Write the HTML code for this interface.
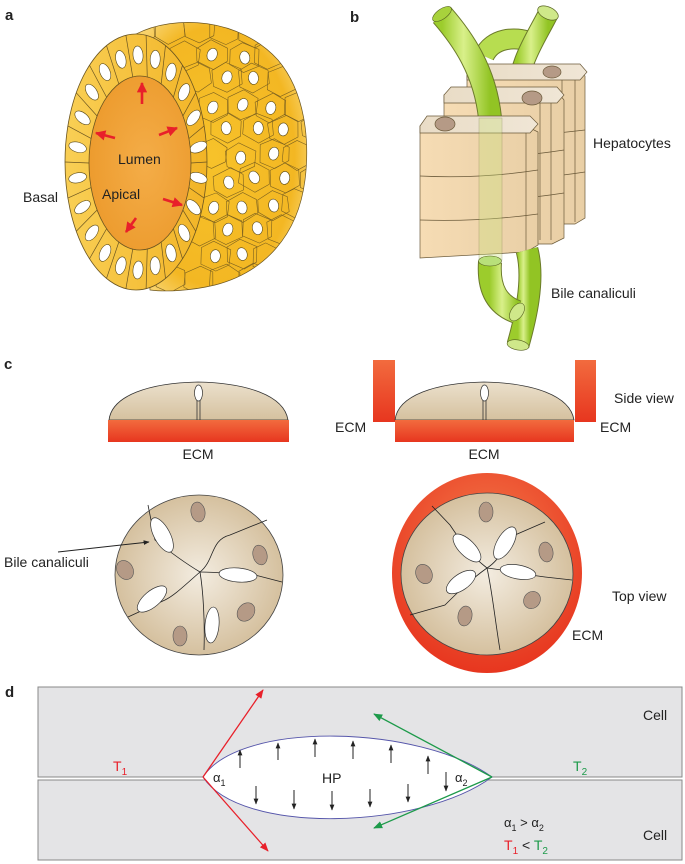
<!DOCTYPE html>
<html><head><meta charset="utf-8"><style>
html,body{margin:0;padding:0;background:#fff;}
svg{display:block;font-family:"Liberation Sans",Arial,sans-serif;}
</style></head><body>
<svg id="s" width="685" height="864" viewBox="0 0 685 864" xmlns="http://www.w3.org/2000/svg">
<defs>
<radialGradient id="dome" cx="0.45" cy="0.5" r="0.6"><stop offset="0" stop-color="#f7c22a"/><stop offset="0.8" stop-color="#f3b723"/><stop offset="1" stop-color="#f8d26a"/></radialGradient>
<linearGradient id="ring" x1="0" y1="0" x2="1" y2="0"><stop offset="0" stop-color="#f9cf55"/><stop offset="1" stop-color="#f2b426"/></linearGradient>
<radialGradient id="lumen" cx="0.55" cy="0.5" r="0.6"><stop offset="0" stop-color="#f4ad48"/><stop offset="1" stop-color="#ec9a2c"/></radialGradient>
<linearGradient id="ecm" x1="0" y1="0" x2="0" y2="1"><stop offset="0" stop-color="#f26b3e"/><stop offset="1" stop-color="#e7361f"/></linearGradient>
<radialGradient id="cell" cx="0.5" cy="0.5" r="0.55"><stop offset="0" stop-color="#f3ece0"/><stop offset="1" stop-color="#d2bc98"/></radialGradient>
<linearGradient id="celld" x1="0" y1="0" x2="0" y2="1"><stop offset="0" stop-color="#ebe0cc"/><stop offset="1" stop-color="#d5c19f"/></linearGradient>
<radialGradient id="ringc" cx="0.5" cy="0.35" r="0.65"><stop offset="0" stop-color="#f47a4a"/><stop offset="1" stop-color="#e7361f"/></radialGradient>
<linearGradient id="hep" x1="0" y1="0" x2="1" y2="0"><stop offset="0" stop-color="#f6dcb4"/><stop offset="1" stop-color="#e9cfa6"/></linearGradient>
<linearGradient id="hepTop" x1="0" y1="0" x2="1" y2="0"><stop offset="0" stop-color="#e9dcc6"/><stop offset="1" stop-color="#f0e6d6"/></linearGradient>
<linearGradient id="tube" x1="0" y1="0" x2="1" y2="0"><stop offset="0" stop-color="#9ccc2c"/><stop offset="0.45" stop-color="#d9f08a"/><stop offset="1" stop-color="#92c424"/></linearGradient>
<marker id="ar" viewBox="0 0 10 10" refX="9" refY="5" markerWidth="4" markerHeight="4" orient="auto"><path d="M0,0L10,5L0,10z" fill="#e8202a"/></marker>
<marker id="mr" viewBox="0 0 10 10" refX="9" refY="5" markerWidth="7" markerHeight="7" orient="auto"><path d="M0,1L10,5L0,9z" fill="#e8202a"/></marker>
<marker id="mg" viewBox="0 0 10 10" refX="9" refY="5" markerWidth="7" markerHeight="7" orient="auto"><path d="M0,1L10,5L0,9z" fill="#1d9a4a"/></marker>
<marker id="mk" viewBox="0 0 10 10" refX="9" refY="5" markerWidth="6" markerHeight="6" orient="auto"><path d="M0,1L10,5L0,9z" fill="#222"/></marker>
</defs>

<!-- Panel a -->
<text x="5" y="20" font-size="15" font-weight="bold" fill="#222">a</text>
<path id="domep" d="M136,34 C175,14 240,18 278,60 C305,92 310,140 305,180 C298,235 265,272 215,285 C190,291 165,292 150,290 Z" fill="url(#dome)" stroke="#6b5520" stroke-width="0.7"/>
<clipPath id="dclip"><path d="M136,34 C175,14 240,18 278,60 C305,92 310,140 305,180 C298,235 265,272 215,285 C190,291 165,292 150,290 Z"/></clipPath>
<g id="domeg" clip-path="url(#dclip)"></g>
<ellipse cx="136" cy="162" rx="71" ry="128" fill="url(#ring)" stroke="#6b5520" stroke-width="0.8"/>
<g id="ringg"></g>
<ellipse cx="140" cy="163" rx="51" ry="87" fill="url(#lumen)" stroke="#6b5520" stroke-width="0.8"/>
<g stroke="#e8202a" stroke-width="2.6" marker-end="url(#ar)">
<line x1="142" y1="104" x2="142" y2="83"/>
<line x1="115" y1="138" x2="96" y2="133"/>
<line x1="159" y1="135" x2="177" y2="128"/>
<line x1="163" y1="199" x2="182" y2="205"/>
<line x1="136" y1="218" x2="126" y2="232"/>
</g>
<text x="118" y="164" font-size="14" fill="#222">Lumen</text>
<text x="102" y="199" font-size="14" fill="#222">Apical</text>
<text x="23" y="202" font-size="14" fill="#222">Basal</text>

<!-- Panel b -->
<text x="350" y="22" font-size="15" font-weight="bold" fill="#222">b</text>
<path d="M530,42 C515,36 492,38 484,56" fill="none" stroke="#6b7a2a" stroke-width="21" stroke-linecap="butt"/>
<path d="M530,42 C515,36 492,38 484,56" fill="none" stroke="#b7dd50" stroke-width="19"/>
<path d="M548,14 C535,40 518,62 517,100" fill="none" stroke="#6b7a2a" stroke-width="21"/>
<path d="M548,14 C535,40 518,62 517,100" fill="none" stroke="url(#tube)" stroke-width="19"/>
<ellipse cx="548" cy="13" rx="11" ry="6" transform="rotate(25 548 13)" fill="#cfe88a" stroke="#556020" stroke-width="0.7"/>
<g stroke="#6b5a3a" stroke-width="0.7">
<path d="M467,72 L580,72 L585,76 L585,218 L575,224 L467,224 Z" fill="url(#hep)"/>
<path d="M467,72 L474,64 L580,64 L587,72 L580,80 L467,80 Z" fill="url(#hepTop)"/>
<ellipse cx="552" cy="72" rx="9" ry="6" fill="#b59a86"/>
<line x1="562" y1="80" x2="562" y2="222"/><line x1="575" y1="80" x2="575" y2="222"/>
<path d="M467,135 Q520,138 585,130" fill="none"/><path d="M467,178 Q520,182 585,172" fill="none"/>
<path d="M444,95 L560,95 L564,100 L564,238 L552,244 L444,244 Z" fill="url(#hep)"/>
<path d="M444,95 L451,87 L557,87 L564,95 L557,103 L444,103 Z" fill="url(#hepTop)"/>
<ellipse cx="532" cy="98" rx="10" ry="7" fill="#b59a86"/>
<line x1="540" y1="103" x2="540" y2="240"/><line x1="551" y1="103" x2="551" y2="240"/>
<path d="M444,157 Q500,160 564,150" fill="none"/><path d="M444,200 Q500,203 564,193" fill="none"/>
</g>
<path d="M442,15 C462,38 485,70 490,118" fill="none" stroke="#6b7a2a" stroke-width="24"/>
<path d="M442,15 C462,38 485,70 490,118" fill="none" stroke="url(#tube)" stroke-width="22"/>
<ellipse cx="442" cy="14" rx="11" ry="5" transform="rotate(-35 442 14)" fill="#a8d23c" stroke="#556020" stroke-width="0.6"/>
<g stroke="#6b5a3a" stroke-width="0.7">
<path d="M420,126 L526,126 L538,132 L538,245 L526,252 L420,258 Z" fill="url(#hep)"/>
<path d="M420,126 L427,116 L530,116 L538,124 L530,133 L420,133 Z" fill="url(#hepTop)"/>
<ellipse cx="445" cy="124" rx="10" ry="7" fill="#b59a86"/>
<line x1="526" y1="133" x2="526" y2="252"/>
<path d="M420,176 Q480,179 538,170" fill="none"/><path d="M420,220 Q480,222 538,214" fill="none"/>
</g>
<rect x="479" y="118" width="23" height="142" fill="#c9e07a" opacity="0.35" stroke="#556020" stroke-width="0.6"/>
<path d="M527,250 C535,280 525,320 518,345" fill="none" stroke="#6b7a2a" stroke-width="23"/>
<path d="M527,250 C535,280 525,320 518,345" fill="none" stroke="url(#tube)" stroke-width="21"/>
<ellipse cx="518" cy="345" rx="11" ry="5" transform="rotate(10 518 345)" fill="#cfe88a" stroke="#556020" stroke-width="0.6"/>
<path d="M490,262 C488,290 498,305 517,312" fill="none" stroke="#6b7a2a" stroke-width="24"/>
<path d="M490,262 C488,290 498,305 517,312" fill="none" stroke="url(#tube)" stroke-width="22"/>
<ellipse cx="517" cy="312" rx="10" ry="6" transform="rotate(-55 517 312)" fill="#cfe88a" stroke="#556020" stroke-width="0.6"/>
<ellipse cx="490" cy="261" rx="11.5" ry="5" fill="#b8e07a" stroke="#556020" stroke-width="0.6"/>
<text x="593" y="148" font-size="14" fill="#222">Hepatocytes</text>
<text x="551" y="298" font-size="14" fill="#222">Bile canaliculi</text>

<!-- Panel c -->
<text x="4" y="369" font-size="15" font-weight="bold" fill="#222">c</text>
<path d="M109,420 C112,395 150,383 198,382 C246,383 284,395 288,420 Z" fill="url(#celld)" stroke="#333" stroke-width="0.8"/>
<line x1="197" y1="389" x2="197" y2="420" stroke="#333" stroke-width="0.8"/><line x1="200" y1="389" x2="200" y2="420" stroke="#333" stroke-width="0.8"/>
<ellipse cx="198.5" cy="393" rx="4" ry="8" fill="#fff" stroke="#333" stroke-width="0.7"/>
<rect x="108" y="420" width="181" height="22" fill="url(#ecm)"/>
<text x="198" y="459" font-size="14" fill="#222" text-anchor="middle">ECM</text>

<rect x="373" y="360" width="22" height="62" fill="url(#ecm)"/>
<rect x="575" y="360" width="21" height="62" fill="url(#ecm)"/>
<path d="M395,420 C398,395 436,383 484,382 C532,383 570,395 574,420 Z" fill="url(#celld)" stroke="#333" stroke-width="0.8"/>
<line x1="483" y1="389" x2="483" y2="420" stroke="#333" stroke-width="0.8"/><line x1="486" y1="389" x2="486" y2="420" stroke="#333" stroke-width="0.8"/>
<ellipse cx="484.5" cy="393" rx="4" ry="8" fill="#fff" stroke="#333" stroke-width="0.7"/>
<rect x="395" y="420" width="179" height="22" fill="url(#ecm)"/>
<text x="484" y="459" font-size="14" fill="#222" text-anchor="middle">ECM</text>
<text x="335" y="432" font-size="14" fill="#222">ECM</text>
<text x="600" y="432" font-size="14" fill="#222">ECM</text>
<text x="614" y="403" font-size="14" fill="#222">Side view</text>

<ellipse cx="199" cy="575" rx="84" ry="80" fill="url(#cell)" stroke="#444" stroke-width="0.8"/>
<g fill="none" stroke="#222" stroke-width="0.8">
<path d="M200,572 C180,560 165,548 155,540 L148,505"/>
<path d="M200,572 C215,560 210,540 230,535 L267,520"/>
<path d="M200,572 C220,572 240,575 255,575 L282,582"/>
<path d="M200,572 C203,590 205,620 204,650"/>
<path d="M200,572 C185,585 175,595 165,600 L128,617"/>
</g>
<g fill="#fff" stroke="#333" stroke-width="0.7">
<ellipse cx="162" cy="535" rx="8" ry="19" transform="rotate(-28 162 535)"/>
<ellipse cx="238" cy="575" rx="19" ry="7" transform="rotate(5 238 575)"/>
<ellipse cx="152" cy="599" rx="8" ry="18" transform="rotate(50 152 599)"/>
<ellipse cx="212" cy="625" rx="7" ry="18" transform="rotate(5 212 625)"/>
</g>
<g fill="#b59a86" stroke="#555" stroke-width="0.6">
<ellipse cx="198" cy="512" rx="7" ry="10" transform="rotate(-10 198 512)"/>
<ellipse cx="260" cy="555" rx="7" ry="10" transform="rotate(-15 260 555)"/>
<ellipse cx="125" cy="570" rx="8" ry="10" transform="rotate(-30 125 570)"/>
<ellipse cx="180" cy="636" rx="7" ry="10"/>
<ellipse cx="246" cy="612" rx="8" ry="10" transform="rotate(40 246 612)"/>
</g>
<line x1="58" y1="552" x2="149" y2="542" stroke="#222" stroke-width="1" marker-end="url(#mk)"/>
<text x="4" y="567" font-size="14" fill="#222">Bile canaliculi</text>

<ellipse cx="487" cy="573" rx="95" ry="100" fill="url(#ringc)"/>
<ellipse cx="487" cy="574" rx="86" ry="81" fill="url(#cell)" stroke="#444" stroke-width="0.8"/>
<g fill="none" stroke="#222" stroke-width="0.8">
<path d="M487,568 C470,555 460,540 450,525 L432,506"/>
<path d="M487,568 C500,560 505,545 515,535 L545,522"/>
<path d="M487,568 C505,570 530,575 545,577 L572,580"/>
<path d="M487,568 C492,590 495,620 500,650"/>
<path d="M487,568 C470,580 455,595 445,605 L410,615"/>
</g>
<g fill="#fff" stroke="#333" stroke-width="0.7">
<ellipse cx="467" cy="548" rx="8" ry="18" transform="rotate(-45 467 548)"/>
<ellipse cx="505" cy="543" rx="8" ry="18" transform="rotate(30 505 543)"/>
<ellipse cx="518" cy="572" rx="18" ry="7" transform="rotate(10 518 572)"/>
<ellipse cx="461" cy="582" rx="8" ry="17" transform="rotate(55 461 582)"/>
</g>
<g fill="#b59a86" stroke="#555" stroke-width="0.6">
<ellipse cx="486" cy="512" rx="7" ry="10"/>
<ellipse cx="546" cy="552" rx="7" ry="10" transform="rotate(-10 546 552)"/>
<ellipse cx="424" cy="574" rx="8" ry="10" transform="rotate(-25 424 574)"/>
<ellipse cx="465" cy="616" rx="7" ry="10" transform="rotate(10 465 616)"/>
<ellipse cx="532" cy="600" rx="8" ry="9" transform="rotate(40 532 600)"/>
</g>
<text x="612" y="601" font-size="14" fill="#222">Top view</text>
<text x="572" y="640" font-size="14" fill="#222">ECM</text>

<!-- Panel d -->
<text x="5" y="697" font-size="15" font-weight="bold" fill="#222">d</text>
<rect x="38" y="687" width="644" height="90" fill="#e4e4e6" stroke="#888" stroke-width="1"/>
<rect x="38" y="780" width="644" height="80" fill="#e4e4e6" stroke="#888" stroke-width="1"/>
<path d="M203,777 C240,720 420,725 492,777 C420,830 240,835 203,777 Z" fill="#fff" stroke="#5555aa" stroke-width="0.9"/>
<line x1="203" y1="777" x2="263" y2="690" stroke="#e8202a" stroke-width="1.3" marker-end="url(#mr)"/>
<line x1="203" y1="777" x2="268" y2="851" stroke="#e8202a" stroke-width="1.3" marker-end="url(#mr)"/>
<line x1="492" y1="777" x2="374" y2="714" stroke="#1d9a4a" stroke-width="1.3" marker-end="url(#mg)"/>
<line x1="492" y1="777" x2="374" y2="828" stroke="#1d9a4a" stroke-width="1.3" marker-end="url(#mg)"/>
<g stroke="#222" stroke-width="1" marker-end="url(#mk)">
<line x1="240" y1="768" x2="240" y2="750"/><line x1="278" y1="760" x2="278" y2="743"/>
<line x1="315" y1="757" x2="315" y2="739"/><line x1="353" y1="759" x2="353" y2="741"/>
<line x1="391" y1="763" x2="391" y2="745"/><line x1="428" y1="774" x2="428" y2="756"/>
<line x1="256" y1="786" x2="256" y2="804"/><line x1="294" y1="790" x2="294" y2="809"/>
<line x1="332" y1="791" x2="332" y2="810"/><line x1="370" y1="789" x2="370" y2="807"/>
<line x1="408" y1="784" x2="408" y2="802"/><line x1="446" y1="772" x2="446" y2="791"/>
</g>
<text x="213" y="782" font-size="13" fill="#222">α<tspan font-size="9" dy="4">1</tspan></text>
<text x="455" y="782" font-size="13" fill="#222">α<tspan font-size="9" dy="4">2</tspan></text>
<text x="322" y="783" font-size="14" fill="#222">HP</text>
<text x="113" y="771" font-size="14" fill="#e8202a">T<tspan font-size="10" dy="4">1</tspan></text>
<text x="573" y="771" font-size="14" fill="#1d9a4a">T<tspan font-size="10" dy="4">2</tspan></text>
<text x="643" y="720" font-size="14" fill="#222">Cell</text>
<text x="643" y="840" font-size="14" fill="#222">Cell</text>
<text x="504" y="827" font-size="13" fill="#222">α<tspan font-size="9" dy="4">1</tspan><tspan dy="-4"> &gt; α</tspan><tspan font-size="9" dy="4">2</tspan></text>
<text x="504" y="850" font-size="14"><tspan fill="#e8202a">T</tspan><tspan fill="#e8202a" font-size="10" dy="4">1</tspan><tspan fill="#222" dy="-4"> &lt; </tspan><tspan fill="#1d9a4a">T</tspan><tspan fill="#1d9a4a" font-size="10" dy="4">2</tspan></text>
</svg>
<script>
(function(){
var NS="http://www.w3.org/2000/svg";
function el(p,t,a){var e=document.createElementNS(NS,t);for(var k in a)e.setAttribute(k,a[k]);p.appendChild(e);return e;}
var dg=document.getElementById('domeg');
var seed=7;function rnd(){seed=(seed*9301+49297)%233280;return seed/233280;}
var row=0;
for(var y=30;y<=300;y+=25,row++){for(var x=140;x<=320;x+=29){
 var px=x+((row%2)?14.5:0)+(rnd()-0.5)*7, py=y+(rnd()-0.5)*6;
 var fx=(px-136)/71, fy=(py-162)/128; if(fx*fx+fy*fy<1.0) continue;
 var pts=[];for(var i=0;i<6;i++){var a=i*Math.PI/3+Math.PI/6+(rnd()-0.5)*0.3;pts.push((px+17*Math.cos(a)).toFixed(1)+','+(py+15*Math.sin(a)).toFixed(1));}
 el(dg,'polygon',{points:pts.join(' '),fill:'none',stroke:'#7a6020','stroke-width':'0.6'});
 var dx=(px-205)/100, dy=(py-158)/128; if(dx*dx+dy*dy>0.8) continue;
 if(fx*fx+fy*fy<1.2) continue;
 el(dg,'ellipse',{cx:px,cy:py,rx:5,ry:6.5,fill:'#fff',stroke:'#5a4a1a','stroke-width':'0.6',transform:'rotate('+((rnd()-0.5)*60)+' '+px+' '+py+')'});
}}
var rg=document.getElementById('ringg');var N=22;
for(var i=0;i<N;i++){var t=i*2*Math.PI/N;
 el(rg,'line',{x1:140+51*Math.cos(t),y1:163+87*Math.sin(t),x2:136+71*Math.cos(t),y2:162+128*Math.sin(t),stroke:'#6b5520','stroke-width':'0.7'});
 var t2=t+Math.PI/N;var ix=140+51*Math.cos(t2),iy=163+87*Math.sin(t2),ox=136+71*Math.cos(t2),oy=162+128*Math.sin(t2);
 var cx=(ix+ox)/2,cy=(iy+oy)/2;var ang=Math.atan2(oy-iy,ox-ix)*180/Math.PI+90;
 el(rg,'ellipse',{cx:cx,cy:cy,rx:5,ry:9,fill:'#fff',stroke:'#5a4a1a','stroke-width':'0.6',transform:'rotate('+ang+' '+cx+' '+cy+')'});
}})();
</script>
</body></html>
